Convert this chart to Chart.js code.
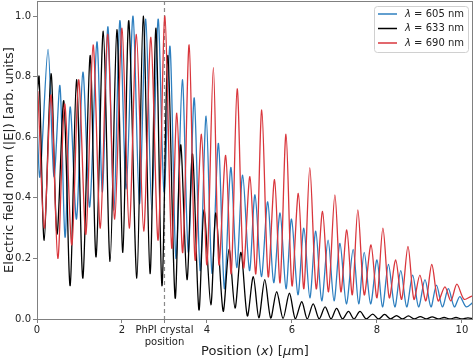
<!DOCTYPE html>
<html>
<head>
<meta charset="utf-8">
<script src="https://cdn.jsdelivr.net/npm/chart.js@4.4.0/dist/chart.umd.min.js"></script>
<style>
  html, body { margin: 0; padding: 0; background: #fff; }
  #c { display: block; }
</style>
</head>
<body>
<canvas id="c" width="474" height="362"></canvas>
<script>
// values: [position (um), |E| (arb. units)] at peaks / dips
const wavelengths = [605, 633, 690];

const field605 = [
  [0, 0.65], [0.07, 0.47], [0.26, 0.89], [0.4, 0.47], [0.54, 0.77], [0.66, 0.27],
  [0.78, 0.70], [0.93, 0.33], [1.08, 0.815], [1.24, 0.37], [1.41, 0.915], [1.54, 0.42],
  [1.67, 0.965], [1.81, 0.36], [1.95, 0.985], [2.1, 0.43], [2.26, 1.0], [2.41, 0.38],
  [2.56, 0.99], [2.7, 0.36], [2.85, 0.99], [2.99, 0.42], [3.13, 0.90], [3.27, 0.2],
  [3.42, 0.79], [3.56, 0.22], [3.7, 0.73], [3.84, 0.16], [3.98, 0.67], [4.12, 0.15],
  [4.27, 0.58], [4.41, 0.1], [4.56, 0.50], [4.7, 0.17], [4.84, 0.475], [5.0, 0.16],
  [5.13, 0.41], [5.28, 0.14], [5.43, 0.387], [5.57, 0.12], [5.72, 0.35], [5.86, 0.1],
  [5.99, 0.33], [6.14, 0.08], [6.28, 0.30], [6.42, 0.07], [6.56, 0.29], [6.7, 0.06],
  [6.85, 0.26], [6.99, 0.06], [7.13, 0.25], [7.28, 0.05], [7.44, 0.23], [7.57, 0.05],
  [7.7, 0.22], [7.85, 0.05], [8.0, 0.195], [8.13, 0.04], [8.27, 0.18], [8.42, 0.04],
  [8.56, 0.16], [8.7, 0.04], [8.84, 0.145], [8.98, 0.04], [9.13, 0.13], [9.27, 0.04],
  [9.4, 0.112], [9.54, 0.04], [9.68, 0.10], [9.82, 0.04], [9.95, 0.074], [10.1, 0.04],
  [10.26, 0.055]
];

const field633 = [
  [0, 0.74], [0.05, 0.80], [0.17, 0.26], [0.33, 0.81], [0.47, 0.28], [0.63, 0.72],
  [0.78, 0.11], [0.93, 0.79], [1.08, 0.135], [1.25, 0.87], [1.39, 0.205], [1.56, 0.95],
  [1.72, 0.19], [1.88, 0.955], [2.02, 0.22], [2.16, 0.985], [2.35, 0.135], [2.5, 1.0],
  [2.66, 0.15], [2.8, 0.96], [2.94, 0.11], [3.08, 0.87], [3.25, 0.07], [3.38, 0.575],
  [3.53, 0.13], [3.66, 0.545], [3.81, 0.03], [3.93, 0.36], [4.09, 0.047], [4.21, 0.35],
  [4.38, 0.026], [4.52, 0.23], [4.66, 0.036], [4.8, 0.22], [4.95, 0.01], [5.09, 0.14],
  [5.22, 0.004], [5.36, 0.13], [5.5, 0.003], [5.64, 0.09], [5.79, 0.002], [5.94, 0.085],
  [6.08, 0], [6.23, 0.057], [6.36, 0], [6.5, 0.05], [6.64, 0], [6.78, 0.04],
  [6.92, 0], [7.05, 0.035], [7.19, 0], [7.33, 0.025], [7.46, 0], [7.6, 0.025],
  [7.75, 0], [7.9, 0.016], [8.04, 0], [8.18, 0.015], [8.32, 0], [8.46, 0.011],
  [8.6, 0], [8.74, 0.01], [8.88, 0], [9.02, 0.008], [9.16, 0], [9.3, 0.007],
  [9.44, 0], [9.58, 0.005], [9.72, 0], [9.86, 0.005], [10.0, 0], [10.14, 0.004],
  [10.26, 0.001]
];

const field690 = [
  [0, 0.72], [0.02, 0.75], [0.17, 0.30], [0.33, 0.74], [0.49, 0.20], [0.65, 0.71],
  [0.82, 0.245], [0.98, 0.79], [1.15, 0.28], [1.32, 0.905], [1.49, 0.30], [1.66, 0.94],
  [1.83, 0.33], [2.0, 0.96], [2.17, 0.30], [2.34, 0.94], [2.51, 0.29], [2.68, 0.93],
  [2.85, 0.26], [3.01, 1.0], [3.17, 0.235], [3.29, 0.68], [3.43, 0.22], [3.58, 0.905],
  [3.72, 0.195], [3.87, 0.61], [4.0, 0.18], [4.15, 0.83], [4.28, 0.18], [4.44, 0.54],
  [4.57, 0.15], [4.71, 0.76], [4.86, 0.17], [5.01, 0.47], [5.15, 0.15], [5.29, 0.69],
  [5.44, 0.14], [5.59, 0.46], [5.72, 0.12], [5.86, 0.61], [6.0, 0.11], [6.15, 0.415],
  [6.28, 0.1], [6.42, 0.50], [6.57, 0.1], [6.72, 0.355], [6.86, 0.09], [7.01, 0.41],
  [7.15, 0.09], [7.29, 0.294], [7.42, 0.08], [7.55, 0.36], [7.7, 0.08], [7.86, 0.245],
  [8.0, 0.07], [8.14, 0.30], [8.29, 0.07], [8.44, 0.195], [8.58, 0.065], [8.73, 0.24],
  [8.87, 0.065], [9.01, 0.145], [9.15, 0.06], [9.29, 0.18], [9.44, 0.06], [9.6, 0.106],
  [9.74, 0.06], [9.88, 0.115], [10.05, 0.065], [10.22, 0.075], [10.26, 0.075]
];

const xTicks = [0, 2, 3, 4, 6, 8, 10];
const yTicks = [0, 0.2, 0.4, 0.6, 0.8, 1.0];
const crystalPos = 3;
const crystalLabel = ['PhPI crystal', 'position'];

const FONT = "'DejaVu Sans', sans-serif";
const spineColor = '#808080';
const textColor = '#222';

const toXY = arr => arr.map(p => ({ x: p[0], y: p[1] }));

function lineSet(w, data, color, order) {
  return {
    label: 'λ = ' + w + ' nm',
    data: toXY(data),
    borderColor: color,
    borderWidth: 1.3,
    pointRadius: 0,
    tension: 0.3,
    fill: false,
    order: order
  };
}

/* ───────── box, crystal marker, x title, legend ───────── */

const decorations = {
  id: 'decorations',
  beforeDatasetsDraw(chart) {
    const { ctx, chartArea: a, scales } = chart;
    const px = scales.x.getPixelForValue(crystalPos);
    ctx.save();
    ctx.strokeStyle = '#8a8a8a';
    ctx.lineWidth = 1.2;
    ctx.setLineDash([4, 3]);
    ctx.beginPath();
    ctx.moveTo(px, a.top);
    ctx.lineTo(px, a.bottom);
    ctx.stroke();
    ctx.restore();
  },
  afterDraw(chart) {
    const { ctx, chartArea: a } = chart;
    ctx.save();
    // spines
    ctx.strokeStyle = spineColor;
    ctx.lineWidth = 1;
    ctx.strokeRect(a.left + 0.5, a.top + 0.5, a.right - a.left - 1, a.bottom - a.top);

    // x title with italic x and mu
    const parts = [
      ['Position (', false], ['x', true], [') [', false], ['μ', true], ['m]', false]
    ];
    const fontN = "13px " + FONT, fontI = "italic 13px " + FONT;
    let total = 0;
    parts.forEach(p => { ctx.font = p[1] ? fontI : fontN; total += ctx.measureText(p[0]).width; });
    let x = (a.left + a.right) / 2 - total / 2;
    ctx.fillStyle = textColor;
    ctx.textBaseline = 'middle';
    parts.forEach(p => {
      ctx.font = p[1] ? fontI : fontN;
      ctx.fillText(p[0], x, 352);
      x += ctx.measureText(p[0]).width;
    });

    // legend
    const sets = chart.data.datasets;
    const lf = "10px " + FONT, lfi = "italic 10px " + FONT;
    let textW = 0;
    sets.forEach(ds => {
      ctx.font = lfi; let w = ctx.measureText('λ').width;
      ctx.font = lf; w += ctx.measureText(ds.label.slice(1)).width;
      textW = Math.max(textW, w);
    });
    const boxW = 4 + 19 + 8 + textW + 4;
    const boxH = 46;
    const bx = a.right - 5 - boxW, by = a.top + 5;
    ctx.fillStyle = 'rgba(255,255,255,0.85)';
    ctx.strokeStyle = '#d0d0d0';
    ctx.beginPath();
    ctx.roundRect(bx + 0.5, by + 0.5, boxW, boxH, 3);
    ctx.fill();
    ctx.stroke();
    sets.forEach((ds, i) => {
      const ly = by + 8 + i * 14.5;
      ctx.strokeStyle = ds.borderColor;
      ctx.lineWidth = 1.5;
      ctx.beginPath();
      ctx.moveTo(bx + 4, ly);
      ctx.lineTo(bx + 23, ly);
      ctx.stroke();
      ctx.fillStyle = textColor;
      ctx.textBaseline = 'middle';
      let tx = bx + 31;
      ctx.font = lfi; ctx.fillText('λ', tx, ly);
      tx += ctx.measureText('λ').width;
      ctx.font = lf; ctx.fillText(ds.label.slice(1), tx, ly);
    });
    ctx.restore();
  }
};

new Chart(document.getElementById('c'), {
  type: 'line',
  data: {
    datasets: [
      lineSet(wavelengths[0], field605, '#2e7fbf', 3),
      lineSet(wavelengths[1], field633, '#000000', 2),
      lineSet(wavelengths[2], field690, '#d9363c', 1)
    ]
  },
  options: {
    responsive: false,
    animation: false,
    layout: { padding: { top: 1, right: 1, left: 0, bottom: 0 } },
    plugins: { legend: { display: false }, tooltip: { enabled: false } },
    scales: {
      x: {
        type: 'linear',
        min: 0,
        max: 10.26,
        afterBuildTicks: s => { s.ticks = xTicks.map(v => ({ value: v })); },
        afterFit: s => { s.height = 43; s.paddingLeft = 0; s.paddingRight = 0; },
        ticks: {
          autoSkip: false,
          maxRotation: 0,
          padding: 1,
          color: textColor,
          font: { family: FONT, size: 10 },
          callback: v => v === crystalPos ? crystalLabel : String(v)
        },
        grid: { drawOnChartArea: false, drawTicks: true, tickLength: 4, color: spineColor },
        border: { display: false }
      },
      y: {
        min: 0,
        max: 1.05,
        afterBuildTicks: s => { s.ticks = yTicks.map(v => ({ value: v })); },
        afterFit: s => { s.width = 37; s.paddingTop = 0; s.paddingBottom = 0; },
        ticks: {
          padding: 2,
          color: textColor,
          font: { family: FONT, size: 10 },
          callback: v => v.toFixed(1)
        },
        grid: { drawOnChartArea: false, drawTicks: true, tickLength: 4, color: spineColor },
        border: { display: false },
        title: {
          display: true,
          text: 'Electric field norm (|E|) [arb. units]',
          color: textColor,
          font: { family: FONT, size: 13 },
          padding: { top: 2, bottom: 0 }
        }
      }
    }
  },
  plugins: [decorations]
});
</script>
</body>
</html>
